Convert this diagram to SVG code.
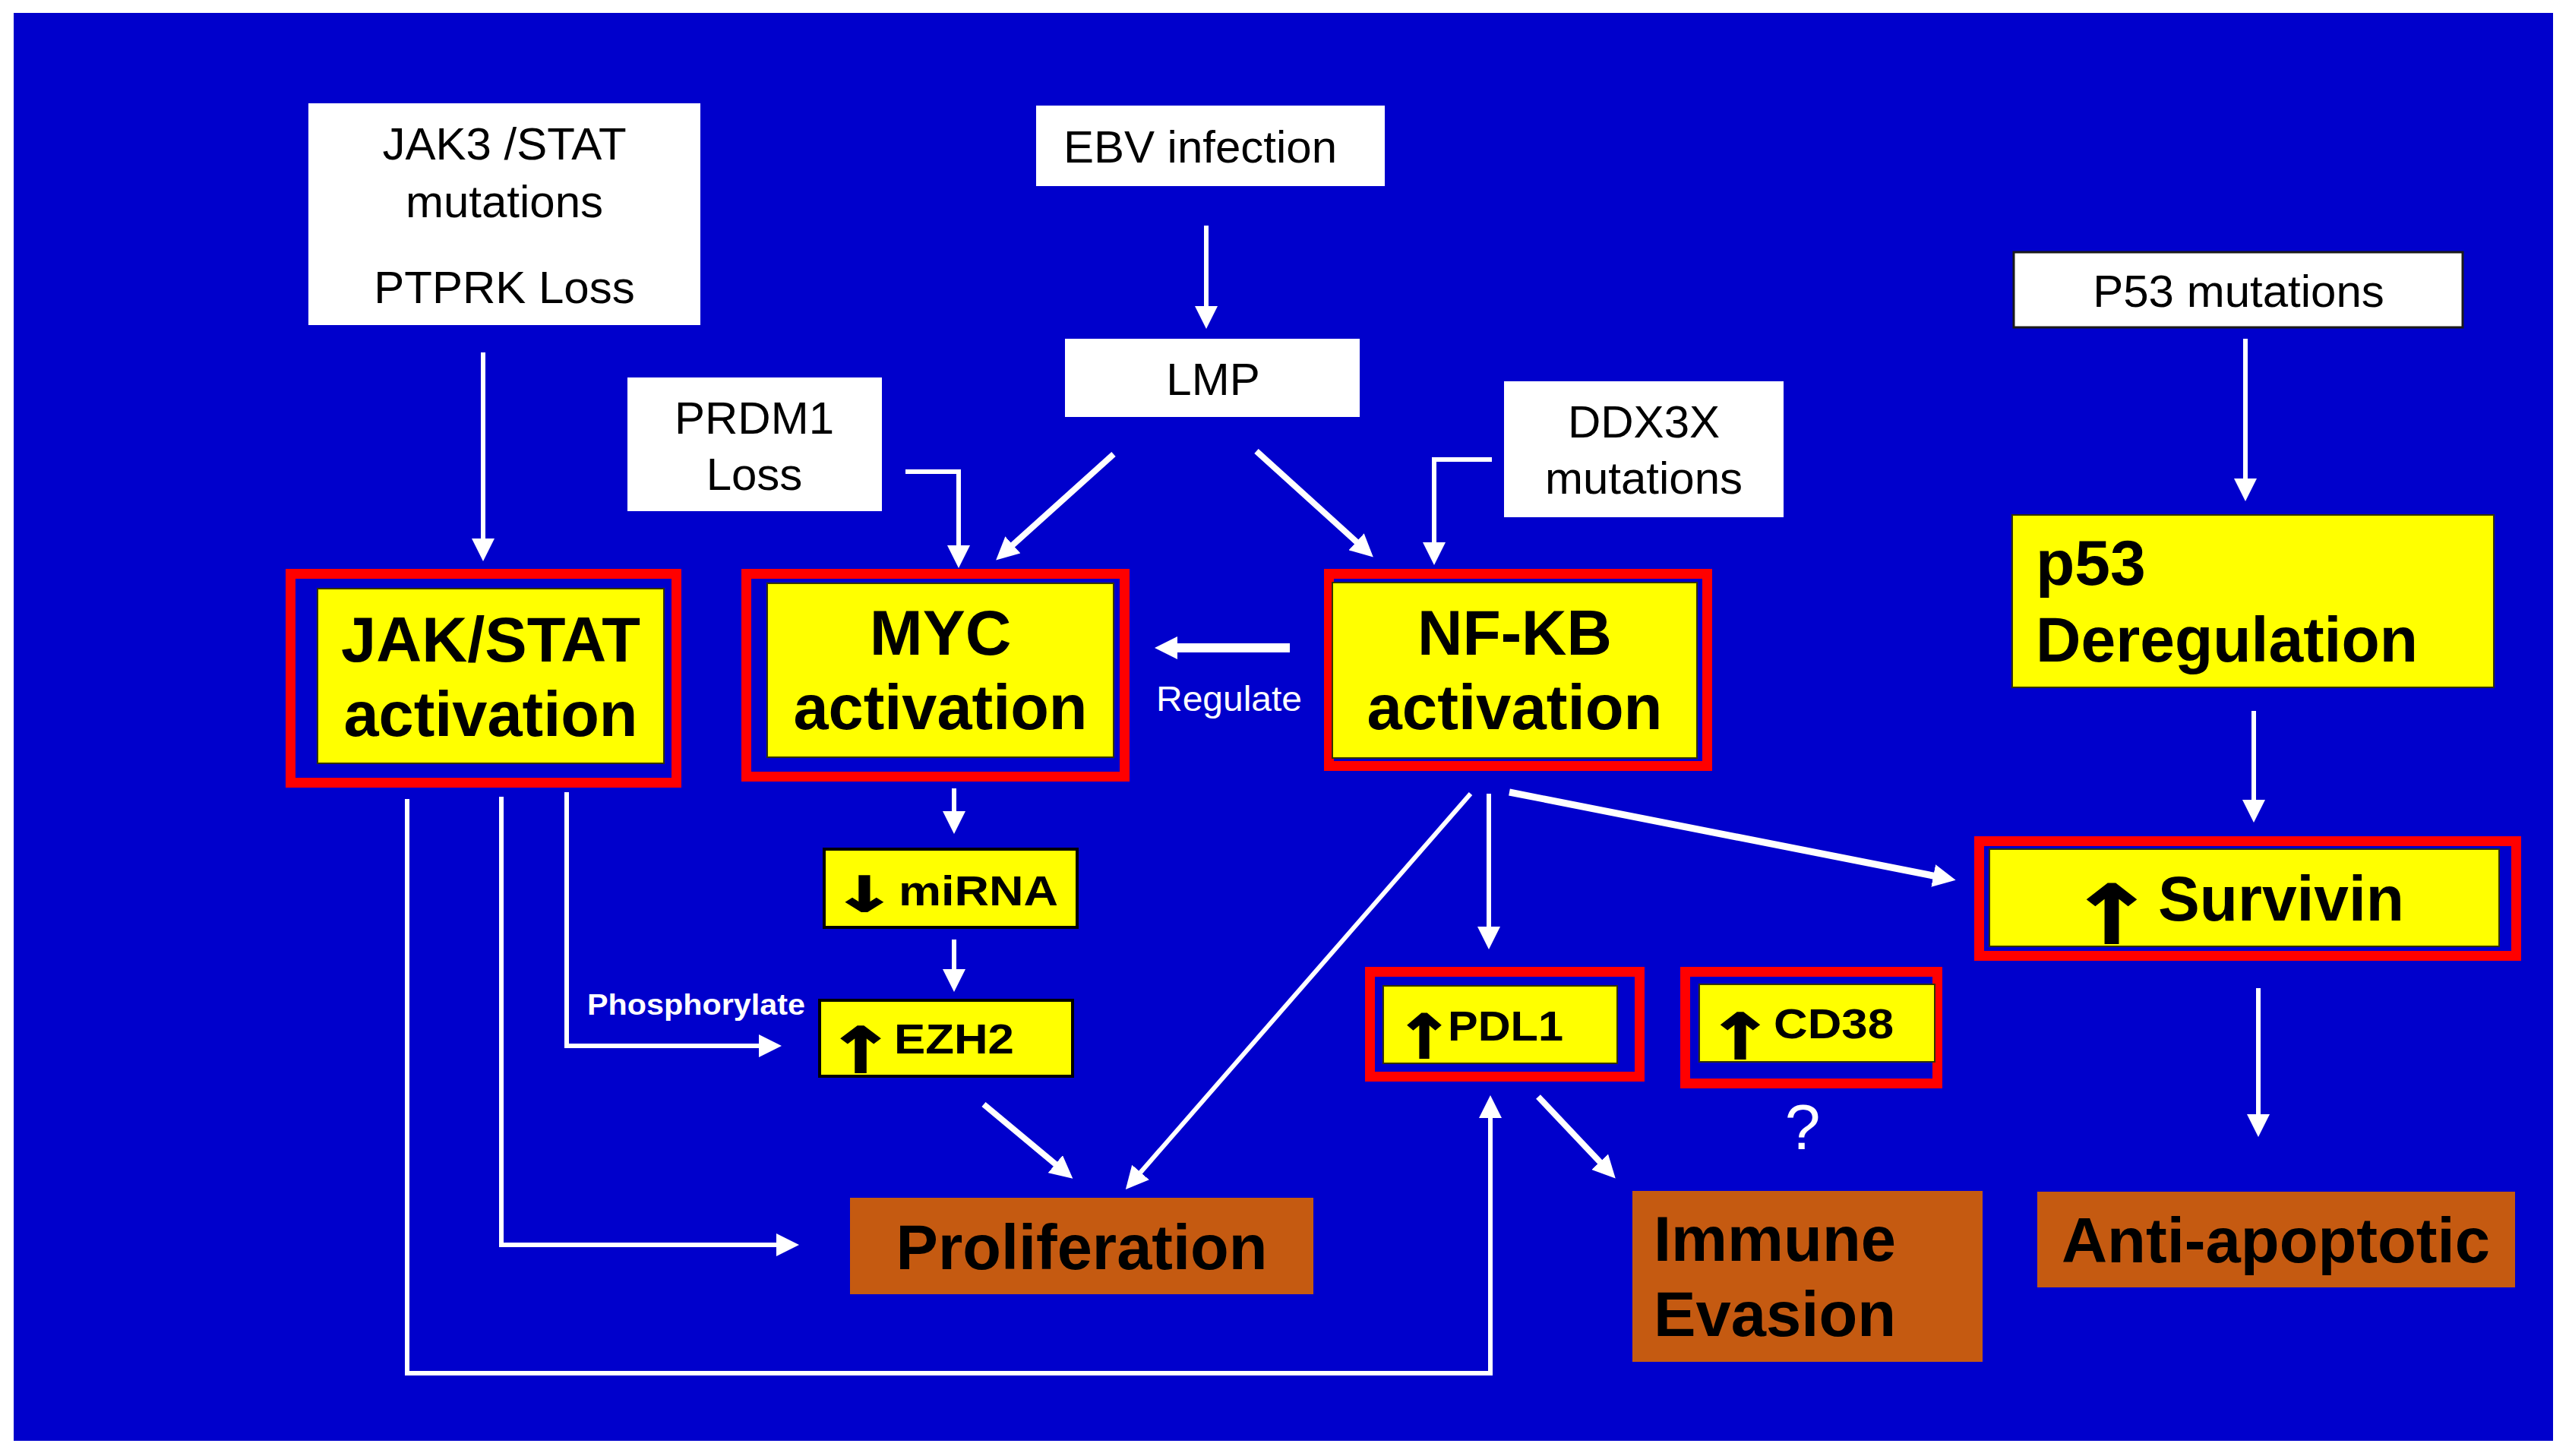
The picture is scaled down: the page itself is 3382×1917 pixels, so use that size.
<svg xmlns="http://www.w3.org/2000/svg" width="3382" height="1917" viewBox="0 0 3382 1917">
<style>
.wbox{fill:#FFFFFF}
.wt{font-family:"Liberation Sans",Arial,sans-serif;font-size:60px;fill:#000;text-anchor:middle}
.red{fill:none;stroke:#FF0000;stroke-width:13}
.yel{fill:#FFFF00;stroke:#333300;stroke-width:2}
.ysm{fill:#FFFF00;stroke:#000;stroke-width:4}
.org{fill:#C55A11}
.bt{font-family:"Liberation Sans",Arial,sans-serif;font-weight:bold;font-size:84px;fill:#000}
.st{font-family:"Liberation Sans",Arial,sans-serif;font-weight:bold;font-size:56px;fill:#000}
.ar{font-family:"DejaVu Sans","Liberation Sans",sans-serif;font-weight:bold;fill:#000;stroke:#000;stroke-width:2;text-anchor:middle}
.lbl{font-family:"Liberation Sans",Arial,sans-serif;fill:#FFFFFF}
.c{fill:none;stroke:#FFFFFF;stroke-width:6;marker-end:url(#ah)}
</style>
<defs>
<marker id="ah" viewBox="0 0 30 30" markerWidth="30" markerHeight="30" markerUnits="userSpaceOnUse" refX="10" refY="15" orient="auto">
<path d="M0,0 L30,15 L0,30 z" fill="#FFFFFF"/>
</marker>
</defs>
<rect x="0" y="0" width="3382" height="1917" fill="#FFFFFF"/>
<rect x="18" y="17" width="3343" height="1880" fill="#0000CC"/>

<g id="connectors">
<path class="c" d="M636,464 V719"/>
<path class="c" d="M1588,297 V413"/>
<path class="c" style="stroke-width:8" d="M1466,598 L1326,724"/>
<path class="c" style="stroke-width:8" d="M1654,594 L1793,720"/>
<path class="c" d="M1192,621 H1262 V728"/>
<path class="c" d="M1964,605 H1888 V724"/>
<path class="c" style="stroke-width:12" d="M1698,853 H1540"/>
<path class="c" d="M1256,1038 V1078"/>
<path class="c" d="M1256,1237 V1286"/>
<path class="c" style="stroke-width:8" d="M1295,1454 L1397,1539"/>
<path class="c" d="M1936,1045 L1495,1551"/>
<path class="c" d="M1960,1045 V1230"/>
<path class="c" style="stroke-width:9" d="M1987,1043 L2555,1155"/>
<path class="c" d="M746,1043 V1377 H1009"/>
<path class="c" d="M660,1049 V1639 H1032"/>
<path class="c" d="M536,1052 V1808 H1962 V1462"/>
<path class="c" style="stroke-width:8" d="M2025,1444 L2113,1537"/>
<path class="c" d="M2956,446 V640"/>
<path class="c" d="M2967,936 V1063"/>
<path class="c" d="M2973,1301 V1477"/>
<text class="lbl" x="1522" y="936" font-size="46" textLength="192" lengthAdjust="spacingAndGlyphs">Regulate</text>
<text class="lbl" x="773" y="1336" font-size="38" font-weight="bold" textLength="287" lengthAdjust="spacingAndGlyphs">Phosphorylate</text>
<text class="lbl" x="2373" y="1513" font-size="84" text-anchor="middle">?</text>
</g>

<g id="jak3-mut">
<rect class="wbox" x="406" y="136" width="516" height="292"/>
<text class="wt" x="664" y="210">JAK3 /STAT</text>
<text class="wt" x="664" y="286">mutations</text>
<text class="wt" x="664" y="399">PTPRK Loss</text>
</g>
<g id="ebv">
<rect class="wbox" x="1364" y="139" width="459" height="106"/>
<text class="wt" x="1580" y="214">EBV infection</text>
</g>
<g id="lmp">
<rect class="wbox" x="1402" y="446" width="388" height="103"/>
<text class="wt" x="1597" y="520">LMP</text>
</g>
<g id="prdm1">
<rect class="wbox" x="826" y="497" width="335" height="176"/>
<text class="wt" x="993" y="571">PRDM1</text>
<text class="wt" x="993" y="645">Loss</text>
</g>
<g id="ddx3x">
<rect class="wbox" x="1980" y="502" width="368" height="179"/>
<text class="wt" x="2164" y="576">DDX3X</text>
<text class="wt" x="2164" y="650">mutations</text>
</g>
<g id="p53mut">
<rect class="wbox" x="2651" y="332" width="591" height="99" stroke="#1a1a1a" stroke-width="3"/>
<text class="wt" x="2947" y="404">P53 mutations</text>
</g>

<g id="jakstat">
<rect class="red" x="382.5" y="755.5" width="508" height="275"/>
<rect class="yel" x="418" y="775" width="456" height="230"/>
<text class="bt" x="646" y="871" text-anchor="middle" textLength="394" lengthAdjust="spacingAndGlyphs">JAK/STAT</text>
<text class="bt" x="646" y="969" text-anchor="middle" textLength="387" lengthAdjust="spacingAndGlyphs">activation</text>
</g>
<g id="myc">
<rect class="red" x="982.5" y="755.5" width="498" height="267"/>
<rect class="yel" x="1010" y="768" width="456" height="229"/>
<text class="bt" x="1238" y="862" text-anchor="middle">MYC</text>
<text class="bt" x="1238" y="960" text-anchor="middle" textLength="387" lengthAdjust="spacingAndGlyphs">activation</text>
</g>
<g id="nfkb">
<rect class="red" x="1749.5" y="755.5" width="498" height="253"/>
<rect class="yel" x="1754" y="767" width="480" height="231"/>
<text class="bt" x="1994" y="862" text-anchor="middle" textLength="256" lengthAdjust="spacingAndGlyphs">NF-KB</text>
<text class="bt" x="1994" y="960" text-anchor="middle" textLength="389" lengthAdjust="spacingAndGlyphs">activation</text>
</g>
<g id="mirna">
<rect class="ysm" x="1085" y="1118" width="333" height="103"/>
<text class="ar" transform="translate(1138,1200) scale(1.6,1)" font-size="64">↓</text>
<text class="st" x="1183" y="1192" textLength="210" lengthAdjust="spacingAndGlyphs">miRNA</text>
</g>
<g id="ezh2">
<rect class="ysm" x="1079" y="1317" width="333" height="100"/>
<text class="ar" transform="translate(1133,1412) scale(1.33,1)" font-size="83">↑</text>
<text class="st" x="1177" y="1387" textLength="158" lengthAdjust="spacingAndGlyphs">EZH2</text>
</g>
<g id="proliferation">
<rect class="org" x="1119" y="1577" width="610" height="127"/>
<text class="bt" x="1424" y="1671" text-anchor="middle" textLength="489" lengthAdjust="spacingAndGlyphs">Proliferation</text>
</g>
<g id="pdl1">
<rect class="red" x="1803.5" y="1279.5" width="355" height="138"/>
<rect class="yel" x="1821" y="1298" width="308" height="102"/>
<text class="ar" transform="translate(1875,1393) scale(1.17,1)" font-size="80">↑</text>
<text class="st" x="1906" y="1370" font-size="52" textLength="152" lengthAdjust="spacingAndGlyphs">PDL1</text>
</g>
<g id="cd38">
<rect class="red" x="2218.5" y="1279.5" width="332" height="147"/>
<rect class="yel" x="2237" y="1296" width="310" height="102"/>
<text class="ar" transform="translate(2291,1394) scale(1.3,1)" font-size="83">↑</text>
<text class="st" x="2335" y="1367" font-size="52" textLength="158" lengthAdjust="spacingAndGlyphs">CD38</text>
</g>
<g id="immune">
<rect class="org" x="2149" y="1568" width="461" height="225"/>
<text class="bt" x="2177" y="1660" textLength="319" lengthAdjust="spacingAndGlyphs">Immune</text>
<text class="bt" x="2177" y="1759" textLength="319" lengthAdjust="spacingAndGlyphs">Evasion</text>
</g>
<g id="p53dereg">
<rect class="yel" x="2649" y="678" width="634" height="227"/>
<text class="bt" x="2680" y="770">p53</text>
<text class="bt" x="2680" y="871" textLength="503" lengthAdjust="spacingAndGlyphs">Deregulation</text>
</g>
<g id="survivin">
<rect class="red" x="2605.5" y="1107.5" width="707" height="151"/>
<rect class="yel" x="2619" y="1118" width="671" height="128"/>
<text class="ar" transform="translate(2780,1242) scale(1.3,1)" font-size="107">↑</text>
<text class="bt" x="2841" y="1212" textLength="324" lengthAdjust="spacingAndGlyphs">Survivin</text>
</g>
<g id="antiapoptotic">
<rect class="org" x="2682" y="1569" width="629" height="126"/>
<text class="bt" x="2996" y="1662" text-anchor="middle" textLength="564" lengthAdjust="spacingAndGlyphs">Anti-apoptotic</text>
</g>
</svg>
